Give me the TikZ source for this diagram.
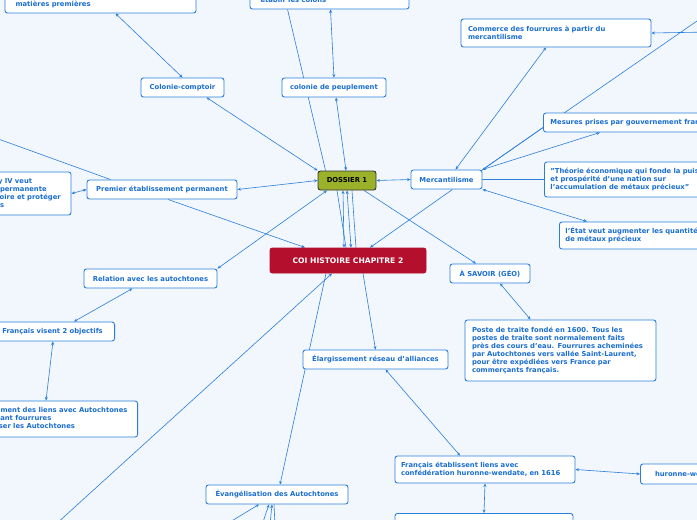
\documentclass[tikz,border=0pt]{standalone}
\usepackage{fontspec}
\setmainfont{DejaVu Sans}
\usetikzlibrary{arrows.meta}
\definecolor{bg}{HTML}{F2F6FD}
\definecolor{bl}{HTML}{2A7FDC}
\definecolor{tx}{HTML}{1A6ED0}
\definecolor{grn}{HTML}{9BB12A}
\definecolor{rd}{HTML}{B40F2C}
\pgfdeclarelayer{back}
\pgfdeclarelayer{lines}
\pgfsetlayers{back,lines,main}
\tikzset{
 fnt/.style={font=\fontsize{6.8}{8}\selectfont\bfseries,text=tx},
 box/.style={draw=bl,line width=0.9pt,fill=white,rounded corners=2.5pt,fnt,inner sep=0pt,align=center},
 mbox/.style={box,align=left},
 con/.style={draw=bl,line width=0.6pt},
 ar/.style={con,-{Stealth[length=3.5pt,width=3pt]}},
 da/.style={con,{Stealth[length=3.5pt,width=3pt]}-{Stealth[length=3.5pt,width=3pt]}},
}
\begin{document}
\begin{tikzpicture}[x=1pt,y=-1pt]
\useasboundingbox (0,0) rectangle (697,520);
\clip (0,0) rectangle (697,520);
\begin{pgfonlayer}{back}
\fill[bg] (0,0) rectangle (697,520);
\end{pgfonlayer}
% offscreen coords
\coordinate (tl) at (-10,136);
\coordinate (tr) at (710,12);
\coordinate (tr2) at (710,32);
\coordinate (bl1) at (55,525);
\coordinate (e1) at (225,525);
\coordinate (e2) at (262,525);
\coordinate (e3) at (270,525);
\coordinate (e4) at (275,525);
% nodes
\node[box,minimum width=191,minimum height=26] (mp) at (100.5,0) {};
\node[fnt,anchor=west] at (12,4) {matières premières};
\node[box,minimum width=159,minimum height=24] (ec) at (329.5,-3) {};
\node[fnt,anchor=west] at (257,0) {établir les colons};
\node[box,minimum width=83,minimum height=19] (cc) at (182.5,87.5) {Colonie-comptoir};
\node[box,minimum width=104,minimum height=19] (cp) at (334,87.5) {colonie de peuplement};
\node[box,draw=black!80,fill=grn,text=black,minimum width=58,minimum height=19] (d1) at (347,180.5) {DOSSIER 1};
\node[box,minimum width=150,minimum height=19] (pe) at (162,189.5) {Premier établissement permanent};
\node[box,minimum width=150,minimum height=43] (hb) at (-4,193.5) {};
\node[fnt,anchor=north west,align=left] at (-24,175) {Henry IV veut\\base permanente\\territoire et protéger\\colons};
\node[box,minimum width=71,minimum height=19] (me) at (446.5,179.5) {Mercantilisme};
\node[mbox,minimum width=190,minimum height=28,text width=176] (cf) at (556,33) {Commerce des fourrures à partir du\\mercantilisme};
\node[box,minimum width=170,minimum height=19,anchor=west] (mg) at (543,122.5) {\hspace*{7pt}Mesures prises par gouvernement français\hspace*{7pt}};
\node[mbox,minimum width=190,minimum height=35,anchor=west,text width=178] (th) at (544,179.5) {"Théorie économique qui fonde la puissance\\et prospérité d'une nation sur\\l'accumulation de métaux précieux"};
\node[mbox,minimum width=190,minimum height=27,anchor=west,text width=178] (et) at (559,235.5) {l'État veut augmenter les quantités\\de métaux précieux};
\node[box,draw=rd,fill=rd,text=white,minimum width=156,minimum height=25,font=\fontsize{7.6}{8}\selectfont\bfseries] (coi) at (348,260.5) {COI HISTOIRE CHAPITRE 2};
\node[box,minimum width=80,minimum height=19] (sv) at (490,273.5) {À SAVOIR (GÉO)};
\node[mbox,minimum width=191,minimum height=61,text width=177] (pt) at (560.5,350.5) {Poste de traite fondé en 1600. Tous les\\postes de traite sont normalement faits\\près des cours d'eau. Fourrures acheminées\\par Autochtones vers vallée Saint-Laurent,\\pour être expédiées vers France par\\commerçants français.};
\node[box,minimum width=133,minimum height=19] (ra) at (150.5,278.5) {Relation avec les autochtones};
\node[box,minimum width=130,minimum height=19,anchor=east] (fv) at (115,331.5) {\hspace*{12pt}Français visent 2 objectifs\hspace*{6pt}};
\node[box,minimum width=220,minimum height=36,anchor=east] (lb) at (138,419) {};
\node[fnt,anchor=north east,align=left] at (131,404) {Renforcement des liens avec Autochtones\\en obtenant fourrures\\Évangéliser les Autochtones};
\node[box,minimum width=145,minimum height=19] (el) at (375.5,359.5) {Élargissement réseau d'alliances};
\node[mbox,minimum width=180,minimum height=27,text width=168] (fe) at (485,469.5) {Français établissent liens avec\\confédération huronne-wendate, en 1616};
\node[box,minimum width=110,minimum height=20,anchor=west] (hw) at (640,474) {\hspace*{7pt}huronne-wendate\hspace*{20pt}};
\node[box,minimum width=178,minimum height=20,anchor=north] (bb) at (484,513) {};
\node[box,minimum width=142,minimum height=19] (ev) at (277,494.5) {Évangélisation des Autochtones};
% connectors
\begin{pgfonlayer}{lines}
\draw[da] (mp.south) ++(15,0) coordinate (mpa) -- (cc.north);
\draw[da] (cc.south east) ++(-18,0) coordinate (cca) -- (d1.north west);
\draw[con] (ec.south west) ++(38,0) coordinate (eca) -- ([xshift=8pt]d1.north west);
\draw[da] ([xshift=1pt]ec.south) -- (cp.north);
\draw[da] ([xshift=2pt]cp.south) -- ([xshift=-1pt]d1.north);
\draw[da] (d1.west) -- (pe.east);
\draw[con] (pe.north west) ++(24,0) coordinate (pea) -- (tl);
\draw[da] (pe.west) -- (hb.east);
\draw[ar] (pe.south) ++(6,0) coordinate (peb) -- ([xshift=-43pt]coi.north);
\draw[da] (d1.east) -- (me.west);
\draw[da] ([xshift=9pt]me.north) -- ([xshift=-10pt]cf.south);
\draw[con] (me.north east) -- (tr);
\draw[ar] (tr2) -- (cf.east);
\draw[con] (mg.west) ++(0,5) coordinate (mga) -- ([xshift=-1pt,yshift=-1pt]me.north east);
\draw[da] (me.north east) -- ([xshift=57pt]mg.south west);
\draw[con] (me.east) -- (th.west);
\draw[da] (me.south east) -- ([xshift=28pt]et.north west);
\draw[ar] (me.south) ++(6,0) coordinate (meb) -- ([xshift=22pt]coi.north);
\draw[ar] ([xshift=17pt]d1.south) -- ([xshift=-14pt]sv.north);
\draw[da] ([xshift=-20pt]d1.south) -- (ra.north east) ;
\draw[con] ([xshift=-10pt]d1.south) -- ([xshift=-2pt]coi.north);
\draw[da] ([xshift=-4pt]d1.south) -- ([xshift=-4pt]coi.north);
\draw[da] ([xshift=0pt]d1.south) -- ([xshift=3pt]coi.north);
\draw[con] ([xshift=5pt]d1.south) -- ([xshift=8pt]coi.north);
\draw[da] ([xshift=-18pt]ra.south) -- ([xshift=-41pt]fv.north east);
\draw[da] ([xshift=-62pt]fv.south east) -- ([xshift=-92pt]lb.north east);
\draw[da] ([xshift=40pt]sv.south) coordinate (svb) ([xshift=10pt]sv.south) -- ([xshift=-30pt]pt.north);
\draw[ar] ([xshift=15pt]coi.south) -- (el.north);
\draw[ar] ([xshift=-22pt]coi.south) -- ([xshift=3pt]ev.north);
\draw[ar] (bl1) -- ([xshift=-16pt]coi.south);
\draw[da] ([xshift=10pt]el.south) -- ([xshift=-25pt]fe.north);
\draw[da] (fe.east) -- (hw.west);
\draw[da] (fe.south) -- (bb.north);
\draw[ar] (e1) -- ([xshift=-18pt]ev.south);
\draw[ar] (e2) -- ([xshift=-8pt]ev.south);
\draw[ar] (e3) -- ([xshift=-5pt]ev.south);
\draw[con] (e4) -- ([xshift=-3pt]ev.south);
\end{pgfonlayer}
\end{tikzpicture}
\end{document}
